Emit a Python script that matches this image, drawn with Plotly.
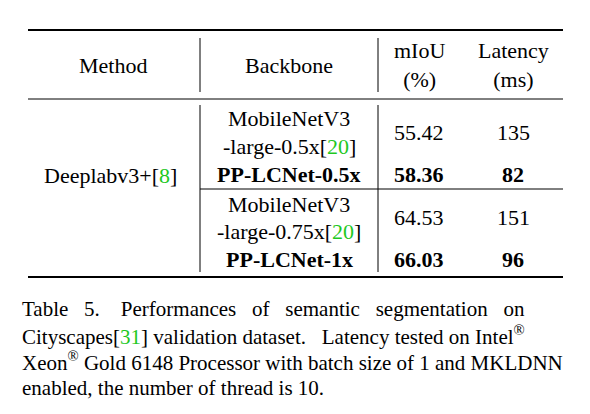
import plotly.graph_objects as go

# table content
headers = ["Method", "Backbone", "mIoU<br>(%)", "Latency<br>(ms)"]
header_x = [113, 289, 419, 513]
method = "Deeplabv3+[<span style='color:#1fc81f'>8</span>]"
backbone_lines = ["MobileNetV3", "-large-0.5x[<span style='color:#1fc81f'>20</span>]", "<b>PP-LCNet-0.5x</b>",
                  "MobileNetV3", "-large-0.75x[<span style='color:#1fc81f'>20</span>]", "<b>PP-LCNet-1x</b>"]
backbone_y = [118, 146, 174, 204, 231, 259]
miou = ["55.42", "<b>58.36</b>", "64.53", "<b>66.03</b>"]
latency = ["135", "<b>82</b>", "151", "<b>96</b>"]
value_y = [132, 174, 217, 259]
sp = "&nbsp;"
caption = [
    "Table" + sp * 3 + "5." + sp * 4 + "Performances" + sp * 3 + "of" + sp * 3 + "semantic" + sp * 3
    + "segmentation" + sp * 3 + "on",
    "Cityscapes[<span style='color:#1fc81f'>31</span>] validation dataset." + sp * 3
    + "Latency tested on Intel<sup>®</sup>",
    "Xeon<sup>®</sup> Gold 6148 Processor with batch size of 1 and MKLDNN",
    "enabled, the number of thread is 10.",
]
caption_y = [309, 335, 361, 388]

OFF = 8  # page body margin

fig = go.Figure()
fig.add_trace(go.Scatter(x=[0, 590], y=[0, 414], mode="markers", marker=dict(opacity=0), hoverinfo="skip"))

font = dict(family="Liberation Serif", size=22, color="black")
ann = []
for t, x in zip(headers, header_x):
    ann.append(dict(x=x, y=65, text=t, font=font))
ann.append(dict(x=110, y=175, text=method, font=font))
for t, y in zip(backbone_lines, backbone_y):
    ann.append(dict(x=289, y=y, text=t, font=font))
for m, l, y in zip(miou, latency, value_y):
    ann.append(dict(x=419, y=y, text=m, font=font))
    ann.append(dict(x=513, y=y, text=l, font=font))
for t, y in zip(caption, caption_y):
    ann.append(dict(x=20, y=y, text=t, xanchor="left",
                    font=dict(family="Liberation Serif", size=21, color="black")))
for a in ann:
    a.update(xref="x", yref="y", showarrow=False)

shapes = [
    dict(type="line", x0=28, x1=563, y0=30, y1=30, line=dict(width=2)),
    dict(type="line", x0=28, x1=563, y0=99, y1=99, line=dict(width=1)),
    dict(type="line", x0=200, x1=563, y0=189, y1=189, line=dict(width=1)),
    dict(type="line", x0=28, x1=563, y0=277, y1=277, line=dict(width=2)),
    dict(type="line", x0=200, x1=200, y0=38, y1=92, line=dict(width=1)),
    dict(type="line", x0=200, x1=200, y0=105, y1=272, line=dict(width=1)),
    dict(type="line", x0=378, x1=378, y0=38, y1=92, line=dict(width=1)),
    dict(type="line", x0=378, x1=378, y0=105, y1=272, line=dict(width=1)),
]
for s in shapes:
    s.update(xref="x", yref="y")
    s["line"]["color"] = "black"

fig.update_layout(
    width=590, height=414, margin=dict(l=0, r=0, t=0, b=0),
    paper_bgcolor="white", plot_bgcolor="white", showlegend=False,
    xaxis=dict(range=[OFF, 590 + OFF], visible=False, fixedrange=True),
    yaxis=dict(range=[414 + OFF, OFF], visible=False, fixedrange=True),
    annotations=ann, shapes=shapes,
)
fig.write_html("out.html")
